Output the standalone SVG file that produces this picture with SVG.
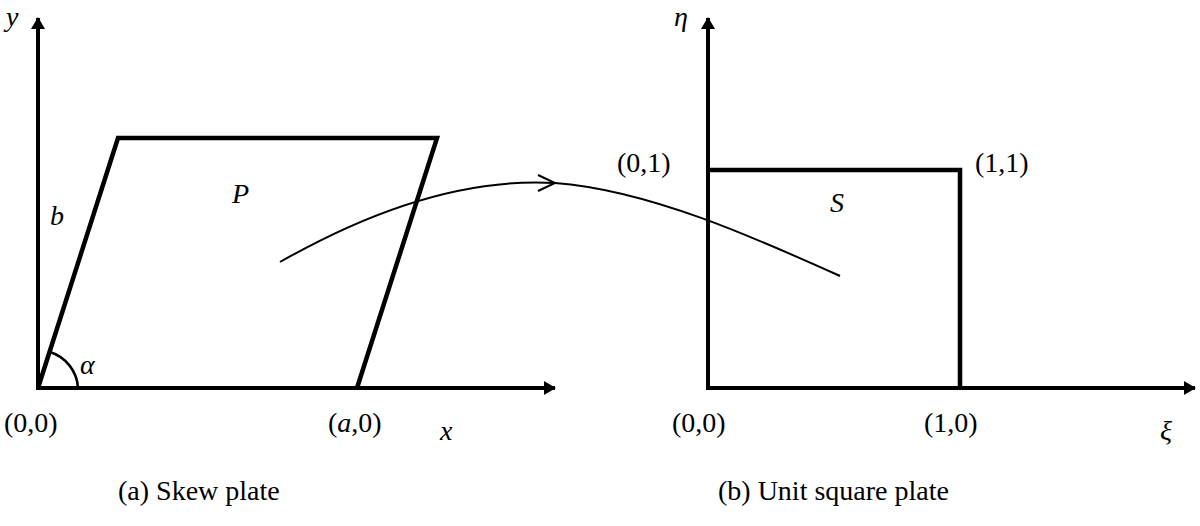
<svg xmlns="http://www.w3.org/2000/svg" width="1200" height="526" viewBox="0 0 1200 526">
<style>
.t{font-family:"Liberation Serif",serif;font-size:28px;fill:#000}
.i{font-style:italic}
.ax{stroke:#000;stroke-width:4;fill:none}
.sh{stroke:#000;stroke-width:4.5;fill:none}
</style>
<defs>
<marker id="ah" markerWidth="12" markerHeight="14" refX="11" refY="7" orient="auto" markerUnits="userSpaceOnUse"><path d="M0,0 L12,7 L0,14 Z" fill="#000"/></marker>
</defs>
<rect width="1200" height="526" fill="#fff"/>
<g id="axes-left">
<path class="ax" d="M38,390 V18" marker-end="url(#ah)"/>
<path class="ax" d="M36,388 H555" marker-end="url(#ah)"/>
</g>
<g id="skew-plate">
<path class="sh" d="M38,388 L118,138 L437,138 L357,388"/>
<path d="M50,352 A40,40 0 0 1 78,388" stroke="#000" stroke-width="2.5" fill="none"/>
</g>
<g id="axes-right">
<path class="ax" d="M708,390 V18" marker-end="url(#ah)"/>
<path class="ax" d="M706,388 H1195" marker-end="url(#ah)"/>
</g>
<g id="square-plate">
<path class="sh" d="M708,170 H960 V388"/>
</g>
<g id="connectors">
<path d="M280,262 C380,205 470,178 555,183 C650,190 760,240 840,276" stroke="#000" stroke-width="2" fill="none"/>
<path d="M538,175 L555,183 L538,191" stroke="#000" stroke-width="2" fill="none"/>
</g>
<g id="labels">
<text class="t i" x="6" y="26">y</text>
<text class="t i" x="50" y="225">b</text>
<text class="t i" x="232" y="203">P</text>
<text class="t i" x="80" y="374">α</text>
<text class="t" x="4" y="432">(0,0)</text>
<text class="t" x="328" y="432">(<tspan class="i">a</tspan>,0)</text>
<text class="t i" x="440" y="440">x</text>
<text class="t" x="118" y="500">(a) Skew plate</text>
<text class="t i" x="674" y="26">η</text>
<text class="t" x="617" y="172">(0,1)</text>
<text class="t" x="975" y="172">(1,1)</text>
<text class="t i" x="830" y="212">S</text>
<text class="t" x="672" y="432">(0,0)</text>
<text class="t" x="924" y="432">(1,0)</text>
<text class="t i" x="1160" y="440">ξ</text>
<text class="t" x="718" y="500">(b) Unit square plate</text>
</g>
</svg>
